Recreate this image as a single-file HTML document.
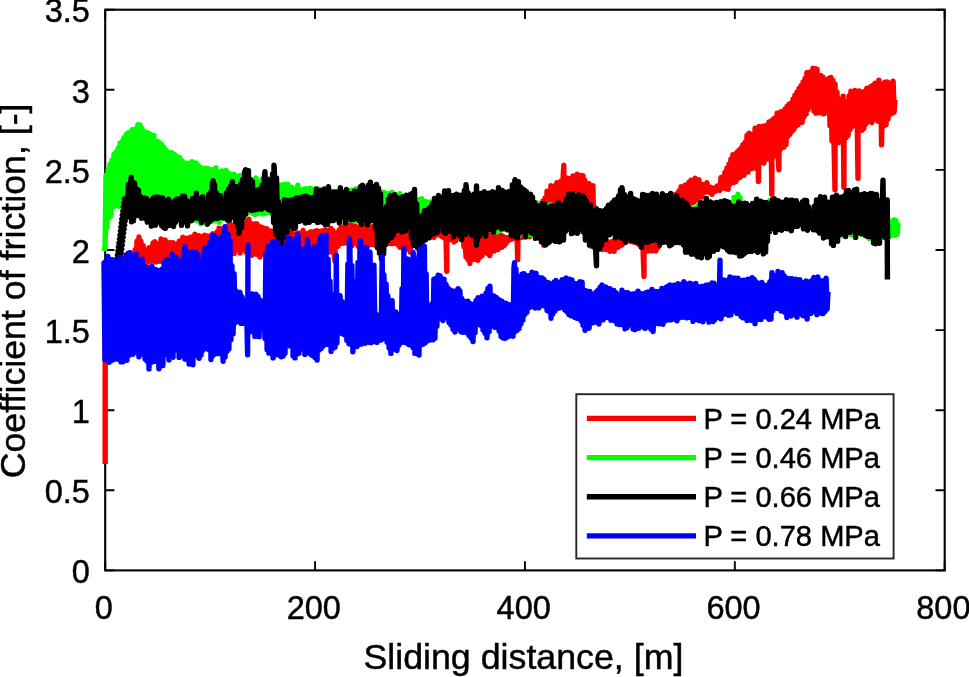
<!DOCTYPE html>
<html lang="en"><head><meta charset="utf-8"><title>Coefficient of friction vs sliding distance</title>
<style>html,body{margin:0;padding:0;background:#fff}svg{display:block}</style></head>
<body>
<svg width="969" height="677" viewBox="0 0 969 677">
<rect width="969" height="677" fill="#fff"/>
<rect x="105.2" y="9.7" width="839.5" height="560.6999999999999" fill="none" stroke="#000" stroke-width="2.1"/>
<path d="M105.20,570.4v-9.2M105.20,9.7v9.2M315.07,570.4v-9.2M315.07,9.7v9.2M524.95,570.4v-9.2M524.95,9.7v9.2M734.83,570.4v-9.2M734.83,9.7v9.2M944.70,570.4v-9.2M944.70,9.7v9.2M105.2,570.40h9.2M944.7,570.40h-9.2M105.2,490.30h9.2M944.7,490.30h-9.2M105.2,410.20h9.2M944.7,410.20h-9.2M105.2,330.10h9.2M944.7,330.10h-9.2M105.2,250.00h9.2M944.7,250.00h-9.2M105.2,169.90h9.2M944.7,169.90h-9.2M105.2,89.80h9.2M944.7,89.80h-9.2M105.2,9.70h9.2M944.7,9.70h-9.2" stroke="#000" stroke-width="1.9" fill="none"/>
<g>
<path d="M105.2,464.0 105.2,300.0 105.1,265.2 106.0,273.5 106.9,268.2 108.0,277.3 109.0,265.2 110.1,272.8 110.9,264.6 112.0,270.2 112.9,265.1 114.0,270.9 114.9,263.9 115.9,270.6 117.0,264.3 118.1,272.2 119.1,260.2 120.0,267.4 120.9,263.4 122.1,266.9 122.9,262.5 124.0,266.4 125.1,258.5 126.0,266.9 127.0,261.9 127.9,265.9 129.1,256.2 129.9,265.5 131.1,260.5 131.9,263.5 133.0,258.5 134.0,264.4 135.1,249.8 136.1,262.1 137.0,241.3 138.1,263.7 139.0,237.0 140.0,262.2 141.0,241.3 141.9,263.0 143.1,245.5 144.1,260.8 145.1,257.2 145.9,265.0 146.9,252.8 147.9,261.8 148.9,247.7 150.0,260.7 150.9,248.1 151.9,261.4 153.0,243.0 154.1,260.8 154.9,241.7 156.1,262.0 156.9,244.5 158.0,260.1 159.0,244.0 160.0,261.3 161.1,238.9 162.1,261.2 163.1,243.2 163.9,261.3 165.1,239.9 165.9,260.3 167.1,243.0 168.0,260.7 169.0,242.7 170.0,263.7 170.9,242.7 171.9,259.1 173.1,242.7 173.9,260.6 175.1,244.6 176.1,258.9 176.9,244.3 177.9,261.1 179.1,241.3 180.0,258.8 181.1,240.7 182.1,258.4 182.9,237.3 184.1,263.2 185.0,240.6 186.0,258.7 186.9,238.1 188.0,258.3 188.9,238.3 189.9,258.4 190.9,236.9 191.9,260.5 192.9,237.4 194.1,262.5 195.0,234.2 195.9,257.9 196.9,236.7 197.9,260.2 199.0,235.8 199.9,259.3 201.1,237.4 202.0,261.7 203.1,236.1 204.0,258.5 204.9,235.1 206.0,255.9 207.1,236.0 207.9,257.3 209.1,236.5 210.0,256.8 210.9,235.6 211.9,259.6 212.9,233.7 214.1,255.9 214.9,234.7 215.9,254.0 217.1,231.6 217.9,253.4 219.1,228.1 219.9,252.7 220.9,228.8 222.1,252.4 223.1,229.6 223.9,256.0 224.9,228.2 226.1,255.2 227.1,226.6 228.0,252.1 229.0,224.6 229.9,251.1 230.9,224.6 232.0,249.9 232.9,225.5 234.0,253.6 235.1,224.7 236.0,249.7 237.0,223.7 238.1,248.3 238.9,224.6 240.1,253.0 241.1,220.8 242.1,249.7 243.1,224.0 244.1,249.6 244.9,223.3 246.0,251.8 247.1,221.5 248.0,251.8 248.9,219.3 250.0,250.9 251.1,223.8 252.1,255.2 253.0,224.0 254.0,251.3 254.9,224.0 256.1,254.0 257.0,223.9 257.9,254.5 258.9,226.5 259.9,257.0 261.1,226.9 262.0,254.3 262.9,227.7 264.1,252.8 265.0,228.6 266.0,252.8 266.9,228.8 268.1,254.5 269.1,231.8 270.0,254.4 271.0,230.9 271.9,253.2 272.9,232.1 274.1,252.4 275.0,232.7 275.9,254.5 277.1,233.5 278.0,251.7 279.1,232.3 279.9,253.5 281.0,232.8 282.0,256.8 283.0,233.8 284.1,251.7 285.0,233.6 286.0,252.3 287.1,233.4 288.1,251.6 289.0,233.4 290.1,251.9 291.1,232.2 291.9,252.5 293.0,234.0 293.9,251.9 295.1,234.7 296.0,251.7 297.1,232.7 298.1,253.4 299.0,233.3 300.0,253.0 300.9,234.5 302.0,252.8 303.1,230.4 304.1,252.7 304.9,234.2 305.9,251.5 307.1,233.7 307.9,254.9 309.1,232.6 309.9,251.4 310.9,231.6 312.1,252.0 313.1,233.0 314.0,252.6 314.9,231.1 316.1,255.6 317.1,230.7 318.0,250.0 318.9,232.7 320.0,252.4 320.9,231.3 322.0,250.2 323.1,230.6 324.1,250.8 325.1,229.9 326.0,251.5 327.0,232.5 327.9,250.2 328.9,230.2 330.0,252.0 331.1,228.4 331.9,250.7 332.9,230.5 333.9,251.4 335.0,261.3 335.1,232.7 336.0,246.1 337.0,233.4 338.1,246.4 339.0,230.3 339.9,243.7 340.9,227.5 342.0,243.3 343.1,226.9 344.1,243.1 345.1,223.3 345.9,242.9 347.0,226.1 348.0,242.7 349.0,225.2 349.9,240.7 351.1,225.1 352.0,245.6 352.9,225.7 354.1,241.5 354.9,226.0 356.0,243.2 357.0,227.5 358.0,246.1 359.1,226.8 360.1,243.2 360.9,225.6 361.9,243.6 362.9,226.4 363.9,243.5 364.9,225.8 366.0,244.3 366.9,223.2 368.1,245.8 369.1,227.4 370.1,243.9 370.9,227.0 372.1,244.5 373.1,226.8 374.0,243.4 375.1,226.1 375.9,245.5 377.1,229.6 378.1,247.7 379.0,229.0 379.9,245.5 380.9,234.1 382.0,247.3 382.9,230.8 384.1,243.3 385.0,234.5 386.0,243.1 387.1,233.3 388.1,243.4 388.9,232.2 390.0,243.2 391.1,232.3 391.9,243.7 392.9,232.1 393.9,243.3 395.1,228.6 396.0,243.2 397.0,231.8 398.1,245.1 398.9,231.7 400.0,247.4 400.9,232.5 402.1,247.4 403.0,230.8 404.1,247.7 405.1,232.4 406.1,248.9 407.0,231.9 407.9,248.9 408.9,231.0 410.1,252.1 411.1,230.7 412.1,246.3 413.1,231.3 414.0,240.7 414.9,232.3 415.9,241.4 417.0,228.1 418.1,238.1 419.0,230.9 420.0,237.1 421.1,233.5 422.0,239.7 422.9,231.2 424.1,236.4 425.1,232.9 426.1,238.6 427.1,232.1 427.9,237.7 428.9,232.9 430.1,235.3 431.0,231.6 431.9,234.7 433.0,231.7 434.0,237.4 434.9,232.6 436.1,234.1 436.9,231.6 437.9,234.4 439.0,230.9 440.0,235.2 440.9,230.9 441.9,236.6 443.0,233.2 444.1,237.8 444.9,233.7 446.0,237.5 446.8,271.3 446.9,235.0 447.9,239.3 448.9,230.9 450.0,239.6 450.9,233.5 452.0,239.7 452.9,231.0 453.9,242.0 455.0,236.1 455.9,240.7 456.9,233.2 457.9,234.0 458.9,232.0 459.9,234.4 461.0,231.6 461.9,234.2 463.0,232.8 464.0,246.9 465.1,236.1 466.0,256.8 467.0,236.2 468.0,259.7 469.0,236.5 469.9,263.5 471.0,236.0 472.0,259.6 472.9,235.9 474.0,258.0 475.1,237.2 475.9,259.3 477.1,235.2 477.9,260.2 479.0,237.2 480.1,257.2 480.9,236.0 482.1,255.8 482.9,236.5 484.0,252.9 485.1,236.4 486.0,252.5 487.0,237.4 488.0,253.9 488.9,231.9 489.9,255.6 490.9,235.8 492.0,250.2 492.9,237.1 494.0,251.0 495.1,235.2 496.1,249.8 497.1,236.6 498.0,249.5 499.1,235.6 500.0,246.7 501.1,235.2 502.0,247.2 503.1,236.4 504.1,245.6 504.9,238.1 506.0,243.4 507.1,237.7 508.0,241.0 508.9,237.4 510.0,239.6 510.9,237.3 511.9,239.2 513.1,235.7 513.9,237.9 515.1,236.8 516.0,238.3 517.1,237.4 517.7,259.8 517.9,238.0 519.1,237.7 519.9,237.8 521.1,237.5 522.0,237.1 523.1,237.0 524.1,237.0 524.9,236.5 526.0,237.0 527.0,236.1 527.9,236.5 528.9,233.9 530.0,236.6 530.9,233.1 532.0,234.3 533.0,225.7 534.1,234.6 535.0,217.9 536.0,233.0 536.9,210.7 537.9,235.4 538.9,207.2 540.1,238.2 541.0,204.4 542.0,239.6 543.0,201.0 543.9,245.2 545.1,198.0 546.0,243.8 547.0,191.3 548.1,242.3 548.9,192.0 550.0,238.4 550.9,185.7 552.1,219.4 553.1,187.0 554.1,217.5 555.1,185.6 556.1,214.9 556.9,182.7 558.1,212.4 559.0,183.8 560.1,209.8 560.9,181.1 562.0,208.1 562.9,182.3 563.8,165.2 564.1,208.3 565.1,182.4 565.9,209.0 566.9,177.9 567.9,208.9 569.0,181.2 569.9,207.7 571.0,178.4 572.0,207.5 573.0,175.9 574.1,212.1 574.9,179.2 576.1,208.9 577.1,174.1 578.0,210.1 579.0,177.5 580.1,208.0 581.1,175.4 582.0,207.6 583.0,175.6 583.9,209.3 584.9,180.3 586.1,208.0 587.1,187.0 588.0,234.5 589.0,183.8 590.0,245.7 591.0,187.8 592.0,246.0 592.9,185.8 594.1,246.6 594.9,207.8 596.1,245.0 596.9,221.5 598.1,249.1 599.0,232.5 599.9,245.7 600.9,234.3 602.1,249.5 602.9,238.4 603.9,245.5 605.1,242.5 606.1,249.6 607.0,241.1 607.9,246.0 609.1,242.9 610.0,251.2 611.1,242.0 611.9,250.8 612.9,241.1 614.1,251.3 615.1,243.5 615.9,245.6 616.9,240.8 618.1,247.3 618.9,239.2 619.9,245.9 621.0,241.1 621.9,245.0 623.1,240.5 623.9,243.1 625.0,238.6 626.0,241.3 626.9,239.6 628.1,240.4 629.0,240.0 630.0,241.1 631.1,240.4 632.1,241.6 633.0,241.0 633.9,242.1 634.9,241.7 635.9,242.5 637.1,242.5 638.0,243.9 639.0,243.4 640.1,245.6 640.9,243.9 642.1,246.6 642.9,244.3 644.0,276.3 644.0,250.0 645.1,243.1 646.1,250.3 647.1,245.2 648.0,251.1 649.0,246.0 649.9,250.3 651.0,243.3 651.9,250.9 652.9,245.4 654.1,250.6 654.9,241.9 655.9,250.8 657.1,245.9 658.0,247.7 659.0,243.5 659.9,242.5 661.0,239.6 662.1,238.7 663.0,234.1 664.0,236.4 665.1,228.0 665.9,234.0 667.1,219.1 668.0,234.3 668.9,213.4 669.9,229.6 670.9,206.0 671.9,225.7 672.9,198.6 673.9,226.2 674.9,194.8 675.9,225.5 676.9,193.8 677.9,221.1 679.0,190.9 680.0,216.9 681.1,186.7 682.1,218.3 682.9,188.1 683.9,213.6 685.0,185.3 686.0,209.4 687.0,184.6 688.1,208.8 689.0,182.1 690.1,209.1 691.1,180.1 692.0,202.5 693.0,180.3 693.9,202.2 695.1,178.2 696.0,199.9 696.9,181.0 698.0,197.8 698.9,179.7 700.1,195.1 701.1,184.2 702.0,197.0 702.9,184.4 704.0,191.8 705.1,185.3 706.0,192.0 706.9,182.6 708.1,191.5 709.1,187.6 710.0,192.6 711.1,187.3 711.9,194.3 712.9,190.1 714.0,192.0 715.1,188.0 716.1,191.0 717.0,186.3 717.9,190.1 718.9,185.4 720.0,190.4 721.0,177.4 721.9,188.1 723.0,177.0 724.1,187.9 724.9,172.2 725.9,188.7 726.9,168.3 728.1,189.3 729.0,164.1 730.0,184.4 730.9,159.1 731.9,182.2 732.9,154.6 733.9,182.5 734.9,156.8 736.0,181.5 737.0,152.2 738.0,178.4 738.9,150.5 740.0,177.3 741.0,148.1 742.1,174.5 742.9,144.8 744.0,175.3 745.1,142.3 746.0,172.4 747.0,135.5 748.0,172.1 749.1,133.3 750.0,168.9 751.1,134.5 752.0,168.5 753.0,135.0 754.0,166.6 755.1,128.3 756.0,168.1 756.9,132.1 757.9,160.6 758.5,181.3 759.0,126.5 760.0,160.0 760.9,128.3 762.0,157.5 762.9,126.2 763.9,163.1 765.1,126.0 766.1,158.3 766.9,125.1 768.0,159.0 769.0,121.9 769.9,158.9 771.0,121.3 771.8,194.3 771.9,156.5 773.1,119.2 773.9,156.2 775.1,118.0 775.9,155.0 777.1,113.3 777.9,153.1 778.9,169.8 779.1,115.8 779.9,150.3 781.0,111.8 781.9,146.3 782.9,113.2 783.9,147.3 784.9,109.1 786.0,144.6 787.0,106.5 787.9,136.4 789.0,104.3 789.9,134.3 791.0,103.2 791.9,131.3 793.0,99.2 793.9,129.3 795.0,95.2 796.1,126.1 797.1,91.9 798.0,124.8 799.1,88.5 799.9,122.4 801.1,85.8 802.1,122.4 803.1,81.9 803.9,117.2 805.1,78.4 806.1,114.0 806.9,72.8 808.1,109.5 809.0,72.4 810.1,106.1 810.9,71.9 811.9,105.7 813.0,68.3 814.0,110.9 814.9,68.6 815.9,113.1 817.0,69.2 818.0,110.9 819.0,75.4 820.0,112.8 821.0,75.5 821.9,109.1 823.1,77.3 823.9,113.9 825.1,79.6 825.9,112.4 827.0,80.1 827.9,108.4 829.1,78.3 830.0,125.7 830.9,77.5 832.0,140.9 832.9,80.4 833.9,136.4 835.0,189.8 835.0,84.0 836.0,137.4 837.0,92.1 838.1,142.7 839.0,101.3 840.0,139.5 840.9,99.5 842.0,142.1 843.1,96.3 843.9,187.3 844.0,139.0 845.0,101.6 846.0,137.6 847.1,101.9 848.1,135.7 849.0,96.0 849.9,129.8 850.9,91.2 852.0,126.7 852.9,92.2 854.0,124.0 855.0,90.5 856.0,125.2 856.9,92.8 858.0,178.3 858.0,127.9 859.1,91.0 859.9,129.9 861.1,92.9 862.1,130.2 863.0,91.9 863.9,128.5 865.1,91.5 866.1,123.7 866.9,88.3 868.1,120.6 869.1,88.0 870.1,121.5 871.0,86.5 871.9,122.5 873.1,85.5 874.1,119.2 875.1,83.1 876.0,117.0 877.1,83.7 877.9,121.0 878.9,80.1 879.9,121.0 881.0,84.4 881.5,144.8 881.9,122.4 882.9,84.1 884.1,125.7 884.9,82.3 886.1,124.4 886.9,81.9 888.0,119.1 889.0,83.0 890.1,114.5 891.0,83.3 891.9,113.4 893.1,81.2 894.1,112.2 894.9,99.9" fill="none" stroke="#ff0000" stroke-width="5.4" stroke-linejoin="round" stroke-linecap="butt"/>
<path d="M103.9,251.0 105.1,246.8 106.0,175.2 106.9,228.1 108.1,170.1 109.0,218.0 109.9,164.4 110.9,215.6 112.0,160.5 112.9,207.2 114.0,154.3 114.9,205.4 116.1,151.9 117.1,204.4 118.1,148.4 119.1,206.2 120.0,143.3 121.1,198.3 122.1,141.5 123.1,195.1 123.9,137.8 124.9,198.8 126.1,134.6 127.1,199.1 128.0,132.9 128.9,201.6 130.0,132.7 131.1,204.6 132.1,129.6 132.9,206.8 133.9,130.0 134.9,203.1 136.0,128.8 137.0,206.0 137.9,124.7 139.1,207.0 140.1,125.2 141.1,209.5 142.1,128.7 143.0,210.2 143.9,131.6 145.0,208.9 146.1,132.8 147.1,207.5 148.0,132.9 149.0,210.0 150.0,134.3 150.9,209.6 152.0,136.2 153.0,211.4 153.9,135.4 155.0,213.7 156.1,141.2 157.0,212.0 158.0,141.8 158.9,211.5 159.9,143.3 160.9,216.0 161.9,144.8 162.9,215.8 163.9,147.5 165.1,214.0 166.0,150.3 166.9,213.5 167.9,152.1 169.0,216.6 170.0,155.2 171.0,213.3 171.9,152.6 173.1,214.1 174.0,154.2 175.0,216.0 176.0,155.9 177.1,216.7 178.0,157.0 179.0,215.5 179.9,157.8 181.1,216.2 182.0,160.6 183.0,216.4 184.1,162.6 185.0,217.2 186.1,164.2 186.9,218.2 188.0,163.3 189.0,217.1 190.0,163.3 191.0,219.3 192.1,161.8 192.9,218.5 194.1,164.6 195.0,219.4 196.1,163.0 197.0,220.7 198.1,165.5 199.0,219.6 200.0,167.2 200.9,223.6 201.9,167.9 203.0,222.1 204.1,168.5 204.9,222.2 206.1,168.2 207.0,222.8 208.1,168.7 209.0,222.1 210.0,169.8 211.1,221.3 212.1,169.7 213.1,220.7 214.1,169.2 215.1,220.0 216.0,167.8 217.0,218.7 217.9,172.1 219.1,222.1 220.0,172.1 220.9,218.5 221.9,170.9 223.1,218.5 224.1,172.4 224.9,216.4 226.0,170.4 227.0,218.1 228.0,173.3 229.1,216.6 230.0,174.6 230.9,215.1 232.0,174.2 233.0,215.3 234.0,174.2 235.1,215.2 235.9,176.0 236.9,215.0 237.9,177.3 239.0,214.8 240.0,175.7 240.9,216.8 242.0,178.2 242.9,212.7 243.9,174.8 245.0,213.6 246.1,177.6 247.1,213.1 248.1,179.6 249.1,212.0 250.1,179.8 251.1,212.0 252.1,180.0 252.9,213.4 254.0,179.9 255.1,214.5 256.0,177.9 257.1,213.3 258.0,181.2 259.0,213.2 259.9,182.3 260.9,212.7 261.9,179.5 263.0,214.0 264.0,182.1 265.1,213.4 266.1,180.2 266.9,212.1 268.0,184.4 269.0,212.2 270.0,183.7 271.1,212.9 272.0,184.6 273.1,211.5 274.0,184.5 275.1,216.1 276.1,182.7 276.9,214.2 277.9,184.4 278.9,214.3 280.1,185.0 281.1,214.8 282.0,186.3 282.9,216.7 284.1,184.3 285.1,213.9 285.9,184.4 286.9,217.5 288.0,184.1 289.1,214.0 290.1,187.7 291.1,218.0 292.0,187.3 293.0,215.5 294.1,189.0 294.9,215.7 295.9,189.8 297.0,215.4 297.9,185.2 299.0,218.8 300.1,189.8 301.1,217.4 302.0,190.0 302.9,219.5 303.9,189.3 305.1,215.2 305.9,188.7 306.9,215.8 308.0,189.4 309.0,215.8 310.1,188.3 310.9,215.3 312.0,189.3 312.9,215.3 314.1,189.7 315.0,216.4 315.9,188.6 317.0,217.0 317.9,188.8 318.9,215.4 320.1,190.0 320.9,216.8 321.9,189.5 322.9,217.0 324.1,189.8 325.0,216.4 326.0,189.6 327.0,219.2 328.0,190.0 329.0,216.0 329.9,192.4 331.1,215.2 332.1,192.3 333.0,215.8 333.9,191.4 335.0,217.2 336.1,192.3 337.0,216.4 338.0,192.2 339.1,217.3 340.1,192.1 340.9,216.4 342.1,193.2 343.1,216.1 344.0,191.9 344.9,219.7 346.0,193.3 347.0,218.0 348.0,190.3 349.0,220.0 350.0,193.9 351.0,216.4 352.0,190.2 353.1,217.3 354.1,192.7 355.1,221.2 356.1,188.8 356.9,217.1 358.0,192.8 358.9,217.5 360.1,188.8 360.9,218.0 361.9,191.3 363.0,217.7 364.0,191.4 364.9,221.7 366.0,188.8 366.9,218.6 368.0,192.3 369.0,220.1 370.1,191.8 371.0,219.4 372.1,193.1 373.0,220.4 373.9,189.2 375.0,218.7 376.0,191.3 376.9,220.2 378.1,192.4 378.9,219.9 380.1,192.6 381.1,220.2 382.0,192.2 383.0,220.6 384.0,192.4 385.0,220.1 386.1,193.9 386.9,219.8 388.0,193.8 389.0,219.9 390.1,194.7 391.0,220.5 392.0,192.1 393.1,221.3 394.1,194.9 395.0,221.7 396.1,196.5 396.9,221.9 398.1,195.0 399.1,221.6 399.9,193.8 401.0,224.6 401.9,196.6 403.0,225.2 403.9,196.2 405.1,221.3 406.0,198.1 406.9,222.2 408.0,199.1 408.9,222.7 409.9,199.0 410.9,221.6 412.1,200.1 412.9,222.7 414.0,200.1 415.0,225.9 415.9,199.7 417.1,222.2 417.9,201.8 418.9,222.9 419.9,199.4 421.1,226.3 421.9,198.6 422.9,223.8 424.1,202.7 425.1,224.0 426.0,201.4 427.0,226.6 427.9,204.1 429.0,224.9 430.0,201.9 431.0,227.6 431.9,203.7 433.1,224.9 433.9,205.2 434.9,226.9 436.0,201.8 437.1,225.2 438.1,203.9 439.0,227.7 440.0,201.1 441.1,226.7 442.1,201.5 442.9,228.2 444.1,201.3 445.1,231.2 445.9,204.7 447.1,229.1 448.1,202.8 448.9,228.9 449.9,202.7 451.0,230.0 452.1,203.3 452.9,230.4 453.9,204.2 455.0,230.6 455.9,203.2 456.9,229.2 457.9,204.4 459.1,229.8 460.0,203.5 461.0,230.1 462.0,201.1 463.1,229.7 464.0,204.1 465.1,230.6 465.9,204.8 466.9,232.6 468.0,202.9 468.9,228.7 470.0,200.1 470.9,230.3 471.9,203.6 472.9,228.6 474.1,204.1 474.9,228.1 476.0,203.7 476.9,228.9 478.1,201.3 478.9,229.1 480.0,204.3 480.9,229.7 482.1,204.9 483.1,227.7 483.9,205.3 484.9,231.2 486.1,205.0 486.9,227.9 488.0,205.4 489.1,227.3 490.1,205.5 491.0,227.6 491.9,204.0 493.0,232.1 494.1,203.5 494.9,231.4 496.0,205.0 497.0,231.8 498.1,204.5 498.9,230.1 500.0,204.0 501.1,230.1 501.9,205.2 503.1,229.6 503.9,205.1 505.0,228.5 506.1,205.0 507.0,229.6 507.9,202.2 509.1,229.3 509.9,204.2 511.0,231.5 511.9,206.4 513.0,230.2 514.1,204.9 515.0,230.3 515.9,202.3 517.1,231.8 518.1,205.0 519.0,235.5 520.1,205.4 520.9,232.3 521.9,205.4 522.9,232.6 524.1,205.1 524.9,231.7 526.1,207.4 526.9,235.7 528.0,206.8 529.0,231.1 530.0,206.3 531.0,234.7 531.9,206.9 533.0,231.7 534.0,203.9 534.9,232.0 535.9,206.4 536.9,231.8 537.9,202.9 539.1,234.4 539.9,207.7 540.9,232.6 542.0,204.6 543.1,230.3 544.1,206.6 544.9,230.4 546.0,207.5 547.1,230.4 548.1,207.1 548.9,233.6 550.0,204.6 551.0,230.9 552.1,208.7 552.9,231.1 554.1,207.6 554.9,231.4 556.1,209.1 557.0,231.0 558.0,208.2 559.0,229.5 559.9,209.1 561.0,230.4 562.1,209.3 563.0,229.6 563.9,210.0 565.0,230.2 566.1,206.5 567.1,229.1 567.9,210.3 569.1,229.4 570.0,210.2 571.1,229.7 571.9,207.3 573.1,229.5 573.9,210.7 574.9,230.7 576.1,210.4 576.9,233.1 578.1,209.9 579.0,231.0 580.1,210.7 581.0,231.4 582.0,211.3 583.0,231.3 583.9,210.3 585.0,231.2 586.0,208.4 587.0,230.0 588.1,211.3 588.9,230.0 590.1,211.9 591.1,231.4 591.9,210.9 593.0,232.8 594.0,210.2 595.0,230.7 596.1,209.5 597.1,229.8 597.9,211.1 599.1,234.3 600.0,211.7 601.1,230.0 602.1,212.5 602.9,231.5 604.1,212.4 605.0,232.8 605.9,213.2 607.1,230.8 608.0,212.8 608.9,229.6 610.0,213.3 611.0,230.5 612.0,214.3 613.1,233.1 614.0,211.9 614.9,229.5 615.9,213.5 617.0,230.2 618.1,211.8 618.9,234.3 620.1,208.4 621.0,229.6 622.1,212.6 622.9,230.6 623.9,212.9 625.1,233.5 626.1,212.5 626.9,230.1 627.9,208.9 629.1,230.8 630.0,211.9 631.0,231.3 632.1,208.6 633.1,229.8 633.9,210.9 634.9,230.3 636.1,211.8 636.9,230.9 638.1,210.1 638.9,231.4 640.0,208.2 640.9,231.0 642.0,209.4 643.1,230.7 643.9,209.6 645.0,230.3 646.1,209.7 647.0,231.4 648.1,209.1 648.9,230.3 650.0,206.9 650.9,229.9 652.1,210.1 653.1,229.5 654.0,209.5 655.1,229.9 655.9,209.8 657.0,231.5 658.0,210.5 658.9,231.0 660.0,209.1 661.1,229.7 662.0,209.7 663.0,230.1 664.1,208.3 665.1,233.2 665.9,209.0 666.9,233.6 668.0,208.6 669.1,229.8 669.9,208.6 671.1,230.6 672.0,209.7 673.1,231.1 674.1,209.3 674.9,234.0 675.9,210.0 676.9,230.5 678.0,207.9 679.1,229.1 679.9,210.2 681.1,233.0 682.0,207.9 683.1,230.6 684.0,208.0 685.0,229.6 686.0,209.6 687.0,230.0 688.1,209.5 689.0,229.6 690.0,209.9 690.9,232.8 692.0,207.8 692.9,229.5 693.9,209.5 695.1,231.1 695.9,207.9 696.9,229.8 697.9,205.5 699.0,229.7 700.1,207.6 701.1,230.1 702.0,209.2 703.1,230.4 704.1,207.6 705.0,230.4 705.9,209.3 707.0,229.6 708.1,209.4 708.9,229.7 709.9,209.4 710.9,229.8 712.1,208.2 712.9,230.0 714.0,204.7 715.1,232.4 716.0,209.7 717.0,229.7 717.9,205.9 719.1,231.9 719.9,204.6 721.0,232.1 722.0,206.0 723.0,231.5 724.1,208.1 724.9,228.2 725.9,208.6 727.1,229.2 728.0,207.7 729.0,228.2 730.0,209.3 731.0,231.2 731.9,202.9 732.9,228.0 734.1,197.5 735.1,231.0 735.9,197.8 736.9,228.7 738.0,194.2 738.9,228.1 740.0,197.7 741.1,227.9 742.1,206.0 742.9,231.0 743.9,205.8 745.1,227.6 746.1,206.7 747.1,227.6 748.1,205.7 749.1,230.2 750.0,207.3 750.9,228.2 752.1,206.7 753.0,227.2 754.1,207.2 755.0,226.7 756.0,205.8 757.0,227.0 758.1,206.9 758.9,225.8 759.9,207.8 760.9,227.2 761.9,207.4 763.0,225.5 764.0,207.3 765.1,227.4 766.0,207.2 767.0,227.5 768.0,204.1 769.0,229.0 769.9,200.6 771.0,228.7 772.1,200.0 773.0,225.6 774.1,204.3 774.9,226.7 776.1,208.0 777.0,224.8 778.0,204.4 778.9,225.2 780.1,208.2 780.9,225.2 781.9,209.7 783.1,226.4 784.1,209.8 784.9,225.2 786.1,206.4 786.9,226.5 788.1,209.0 789.1,224.3 789.9,210.1 791.0,224.9 792.1,209.6 793.1,225.8 794.1,208.9 795.0,225.1 796.0,209.5 797.0,224.4 798.0,207.9 799.0,225.4 800.1,211.4 801.0,224.5 802.1,209.6 803.1,224.5 804.0,207.2 805.1,224.7 806.0,210.5 807.1,224.7 807.9,211.3 809.1,224.3 810.0,211.5 811.1,224.3 811.9,208.8 813.1,225.2 814.0,211.1 814.9,226.9 815.9,212.7 817.1,226.1 818.1,211.9 818.9,226.0 820.0,211.6 821.1,226.3 822.1,212.7 823.1,227.5 824.0,209.4 824.9,228.3 826.0,212.6 826.9,232.6 828.1,208.6 828.9,230.0 829.9,212.5 831.0,230.4 832.0,212.0 833.0,230.3 833.9,208.9 835.1,229.0 836.0,210.3 836.9,231.1 837.9,212.7 839.0,231.9 840.1,210.1 840.9,230.9 842.1,212.2 843.1,235.6 843.9,210.5 845.0,235.3 845.9,213.4 846.9,232.7 847.9,214.4 849.1,231.3 850.1,213.2 851.1,235.0 851.9,214.6 852.9,233.5 853.9,215.2 854.9,232.4 856.1,213.6 857.1,233.8 857.9,214.2 858.9,233.6 860.1,211.5 861.1,233.9 862.0,216.0 863.1,234.4 864.1,216.5 864.9,235.3 866.1,215.2 866.9,236.1 868.0,216.8 869.1,238.4 870.0,215.9 871.1,235.9 872.0,217.3 872.9,235.6 874.1,217.4 875.0,236.6 876.1,216.1 877.0,236.8 877.9,215.7 879.1,238.1 879.9,216.5 881.0,237.5 881.9,217.6 882.9,236.3 883.9,216.9 885.0,236.0 885.9,215.7 887.0,236.2 888.0,219.4 888.9,235.1 889.9,221.9 891.1,235.9 892.1,222.1 893.1,234.9 894.1,219.8 895.1,235.2 896.1,220.7 897.1,234.6 898.1,222.9" fill="none" stroke="#00ff00" stroke-width="5.4" stroke-linejoin="round" stroke-linecap="butt"/>
<path d="M115.1,275.0 118.7,273.0 115.6,271.0 119.2,269.0 116.1,267.0 119.7,265.0 116.6,263.0 120.2,261.0 117.0,259.0 120.7,257.0 117.5,255.0 121.2,253.0 118.0,251.0 121.7,249.0 118.5,247.0 122.2,245.0 119.0,243.0 122.6,241.0 119.5,239.0 123.1,237.0 120.0,235.0 123.6,233.0 120.5,231.0 124.1,229.0 120.9,227.0 124.6,225.0 121.4,223.0 125.1,221.0 121.9,219.0 125.6,217.0 122.4,215.0 126.1,213.0 122.9,211.0 126.5,209.0 123.4,207.0 127.0,205.0 123.9,203.0 127.5,201.0 124.4,199.0 128.0,197.0 126.5,200.2 127.4,217.1 128.4,184.5 129.5,216.4 130.5,184.1 131.2,177.2 131.6,221.8 132.6,183.4 133.5,220.9 134.6,183.0 135.6,215.3 136.5,188.7 137.6,215.5 138.4,189.9 139.5,214.8 140.5,196.4 141.5,218.2 142.6,200.2 143.6,217.6 144.6,197.9 145.5,218.6 146.6,198.4 147.4,222.1 148.4,201.5 149.4,221.4 150.6,200.8 151.4,226.1 152.6,198.7 153.6,220.7 154.5,197.2 155.5,225.2 156.4,197.0 157.6,221.0 158.5,197.2 159.5,222.2 160.6,197.6 161.6,225.3 162.6,197.6 163.4,227.3 164.4,200.4 165.4,228.3 166.6,201.8 167.6,225.9 168.6,199.1 169.5,225.4 170.5,204.0 171.5,222.8 172.6,202.9 173.6,226.5 174.6,201.0 175.5,222.4 176.4,199.2 177.5,220.1 178.5,198.9 179.5,219.9 180.5,198.9 181.6,225.3 182.6,196.1 183.5,220.2 184.6,196.2 185.5,221.9 186.6,200.4 187.6,225.8 188.5,202.6 189.4,219.2 190.5,202.0 191.5,220.9 192.5,198.4 193.4,218.5 194.6,199.9 195.5,217.6 196.4,193.0 197.5,217.9 198.5,199.2 199.6,218.8 200.5,198.8 201.6,222.4 202.6,196.7 203.4,217.5 204.4,205.1 205.5,220.0 206.6,204.5 207.4,224.2 208.6,194.4 209.5,221.7 210.5,192.5 211.5,219.6 212.4,183.1 213.2,180.7 213.5,218.6 214.5,184.4 215.5,217.8 216.5,192.9 217.6,218.3 218.5,196.8 219.6,217.6 220.5,195.6 221.5,215.7 222.4,204.5 223.6,218.1 224.6,201.6 225.5,215.4 226.4,192.8 227.4,220.0 228.6,189.2 229.6,220.2 230.6,186.3 231.5,213.8 232.4,181.7 232.6,185.3 233.4,216.7 234.4,189.0 235.6,221.5 236.4,186.8 237.5,225.2 238.5,188.0 239.0,233.3 239.5,229.6 240.6,184.4 241.6,227.6 242.5,179.8 243.4,217.4 244.6,171.9 245.6,214.3 245.7,169.7 246.4,171.7 247.4,209.7 248.5,170.7 248.4,177.6 249.6,204.4 250.4,179.4 251.5,210.4 252.4,181.5 253.6,210.0 254.5,190.4 255.5,209.9 256.6,191.2 257.6,209.2 258.4,189.8 259.6,208.4 260.4,188.6 261.6,209.2 262.4,184.9 263.5,207.7 264.4,176.0 265.0,171.7 265.5,207.5 266.4,178.1 267.5,208.7 268.6,179.8 269.4,210.0 270.4,180.2 271.4,210.5 272.6,173.7 273.6,222.5 274.0,165.2 274.4,172.0 275.6,234.0 276.5,177.9 277.6,236.2 278.5,201.5 279.6,239.5 280.6,205.8 281.6,243.9 282.5,205.6 283.4,237.4 284.6,199.6 285.5,228.7 286.6,201.5 287.4,232.2 288.4,200.1 289.6,226.0 290.4,201.0 291.4,226.7 292.4,199.8 293.6,228.6 294.5,199.1 295.4,227.7 296.4,197.6 297.4,221.4 298.6,198.0 299.5,221.3 300.6,197.8 301.5,220.0 302.4,197.0 303.5,220.7 304.4,196.2 305.5,223.0 306.5,196.3 307.4,219.9 308.4,197.1 309.4,222.3 310.4,198.4 311.4,220.6 312.6,197.4 313.5,220.4 314.6,197.0 315.5,220.4 316.4,189.3 317.5,222.5 318.5,192.3 319.5,222.0 320.4,190.6 321.5,220.3 322.5,190.7 323.4,222.6 324.5,189.0 325.4,224.8 326.4,189.1 327.5,224.6 328.5,186.8 329.4,219.1 330.4,192.1 331.4,220.6 332.5,192.3 333.4,220.6 334.6,192.3 335.4,217.4 336.6,191.9 337.4,219.2 338.5,194.0 339.4,222.9 340.4,187.6 341.4,217.0 342.6,192.5 343.4,217.0 344.6,193.5 345.6,223.0 346.5,189.4 347.4,217.3 348.6,195.0 349.5,217.4 350.6,193.7 351.4,219.9 352.6,195.0 353.4,219.3 354.5,191.3 355.4,218.7 356.5,192.6 357.5,218.2 358.5,190.6 359.5,221.2 360.5,186.8 361.5,224.3 362.4,185.3 363.4,219.7 364.4,188.5 365.6,220.5 366.5,187.7 367.4,224.7 368.4,185.2 369.6,221.4 370.4,182.2 371.5,219.9 372.5,187.6 373.4,220.5 374.6,186.5 375.5,228.7 376.5,184.5 377.5,247.6 378.5,188.2 379.5,253.1 380.5,193.9 381.4,258.9 382.6,209.3 383.6,253.9 384.6,209.5 385.5,244.7 386.6,206.4 387.6,240.6 388.6,199.3 389.5,238.2 390.4,195.4 391.6,237.3 392.4,197.7 393.4,234.9 394.6,194.5 395.6,230.6 396.4,197.3 397.5,230.0 398.4,199.8 399.6,226.4 400.6,197.6 401.5,232.0 402.4,197.0 403.5,225.8 404.6,198.1 405.4,231.0 406.4,195.3 407.4,227.3 408.5,195.8 409.5,226.9 410.6,194.1 411.4,237.6 412.5,193.3 413.4,245.4 414.5,189.5 415.5,245.4 416.6,204.0 417.5,247.7 418.6,216.9 419.5,245.5 420.6,218.1 421.4,242.2 422.5,215.3 423.6,241.0 424.5,210.6 425.4,239.9 426.4,210.7 427.5,237.4 428.5,209.0 429.4,237.9 430.4,207.1 431.6,229.4 432.4,204.0 433.6,233.9 434.4,198.5 435.6,232.7 436.6,201.8 437.6,232.4 438.5,195.5 439.4,226.4 440.4,199.8 441.6,226.7 442.4,197.1 443.4,231.6 444.6,191.0 445.5,233.1 446.5,193.6 447.4,229.4 448.5,190.6 449.4,231.3 450.6,196.8 451.6,231.5 452.4,195.7 453.6,236.8 454.5,195.2 455.5,232.9 456.5,194.3 457.4,232.2 458.4,197.0 459.4,235.4 460.6,195.1 461.6,239.6 462.6,194.9 463.4,233.5 464.4,190.5 465.5,234.1 466.0,184.7 466.5,188.9 467.6,230.6 468.4,193.1 469.4,232.1 470.5,195.1 471.6,234.9 472.5,195.4 473.5,235.3 474.4,193.9 475.6,238.6 476.5,245.3 476.5,186.0 477.4,240.2 478.5,193.4 479.5,235.9 480.5,193.4 481.6,233.0 482.4,193.4 483.4,231.6 484.4,191.7 485.6,236.2 486.6,196.2 487.5,228.6 488.6,193.3 489.6,229.1 490.6,192.9 491.4,229.5 492.6,191.6 493.5,232.1 494.5,192.8 495.4,228.0 496.4,193.3 497.6,226.9 498.5,187.7 499.6,226.4 500.5,192.6 501.5,228.9 502.4,190.5 503.5,227.7 504.5,192.0 505.4,228.1 506.5,198.6 507.6,229.7 508.5,191.6 509.6,228.8 510.4,193.0 511.4,235.6 512.4,184.6 513.4,229.8 514.4,184.5 515.0,179.7 515.5,236.7 516.6,186.1 517.5,237.7 518.4,181.6 519.4,232.9 520.5,186.9 521.4,231.2 522.4,188.6 523.5,231.9 524.5,190.2 525.6,236.5 526.4,191.7 527.4,230.0 528.5,194.8 529.4,230.4 530.6,194.2 531.5,233.0 532.5,196.9 533.5,233.2 534.4,202.2 535.5,238.3 536.6,206.4 537.6,234.3 538.4,205.7 539.5,238.2 540.4,207.4 541.5,241.8 542.4,203.7 543.5,243.0 544.5,204.2 545.5,244.9 546.4,208.2 547.6,243.3 548.5,208.0 549.4,242.1 550.6,206.2 551.4,238.7 552.5,206.2 553.4,240.3 554.6,208.0 555.6,241.3 556.5,205.7 557.6,241.2 558.4,202.4 559.6,241.8 560.6,206.2 561.4,237.3 562.5,205.7 563.5,240.1 564.5,203.9 565.6,231.2 566.5,198.9 567.4,228.7 568.6,194.1 569.4,228.8 570.5,196.2 571.5,233.6 572.4,193.9 573.5,232.7 574.5,197.4 575.4,227.5 576.4,196.6 577.4,233.2 578.6,194.6 579.5,228.2 580.4,195.4 581.5,229.3 582.4,195.7 583.5,231.8 584.4,197.9 585.4,240.0 586.6,201.3 587.6,237.5 588.4,205.4 589.5,244.9 590.5,205.3 591.4,243.6 592.5,210.5 593.5,246.8 594.6,212.1 595.5,248.0 596.5,265.8 596.6,209.0 597.6,248.5 598.4,215.6 599.5,248.9 600.4,210.6 601.4,245.2 602.6,212.6 603.4,238.6 604.6,210.5 605.6,239.7 606.6,208.4 607.5,235.0 608.4,205.2 609.5,234.9 610.5,204.6 611.5,231.8 612.4,202.7 613.5,232.6 614.4,200.2 615.4,237.7 616.5,199.1 617.6,236.2 618.6,195.9 619.4,236.6 620.5,189.7 621.6,238.0 622.0,187.7 622.5,191.9 623.5,238.6 624.6,194.6 625.6,242.1 626.4,196.9 627.4,237.2 628.4,198.3 629.5,237.7 630.6,193.5 631.5,240.3 632.4,198.1 633.5,240.8 634.4,199.3 635.4,241.7 636.6,200.2 637.4,242.2 638.5,201.8 639.6,242.9 640.6,200.9 641.4,247.1 642.6,194.4 643.4,241.9 644.6,195.0 645.6,242.2 646.4,196.5 647.6,242.1 648.5,195.4 649.4,240.9 650.6,195.2 651.4,240.5 652.5,193.5 653.4,240.1 654.5,199.4 655.4,239.8 656.5,194.2 657.6,239.8 658.5,197.5 659.5,245.3 660.5,197.6 661.6,241.4 662.4,193.6 663.4,242.2 664.6,198.6 665.4,240.6 666.6,195.7 667.6,242.4 668.6,197.8 669.6,245.8 670.6,193.4 671.4,244.7 672.4,199.4 673.4,242.7 674.5,200.2 675.4,242.6 676.6,195.8 677.4,242.0 678.5,200.1 679.6,242.6 680.4,201.8 681.6,241.5 682.5,200.4 683.5,245.0 684.4,202.7 685.6,252.2 686.6,204.0 687.4,252.1 688.5,207.4 689.5,252.1 690.5,210.0 691.5,254.1 692.6,209.6 693.4,253.7 694.6,209.8 695.4,254.5 696.4,209.6 697.6,256.7 698.4,208.9 699.6,250.4 700.5,202.4 701.4,257.7 702.5,206.4 703.5,251.8 704.5,203.0 705.5,253.8 706.4,198.5 707.5,257.6 708.5,203.0 709.4,256.3 710.4,202.0 711.6,249.7 712.5,203.0 713.6,251.2 714.6,206.3 715.4,247.0 716.4,202.5 717.6,249.4 718.6,204.4 719.4,245.9 720.5,201.6 721.6,244.9 722.5,201.9 723.6,246.6 724.5,200.7 725.4,247.4 726.4,201.5 727.6,250.1 728.6,202.2 729.6,251.8 730.6,205.3 731.5,251.9 732.5,206.4 733.4,251.7 734.5,207.5 735.5,252.5 736.6,205.7 737.4,252.7 738.6,202.0 739.6,256.0 740.5,205.2 741.6,255.8 742.5,203.9 743.5,254.1 744.6,203.3 745.4,252.8 746.5,203.7 747.6,249.9 748.5,205.9 749.6,251.4 750.4,205.9 751.5,251.4 752.5,203.4 753.4,248.7 754.6,204.2 755.6,250.2 756.6,199.3 757.6,252.3 758.6,202.1 759.5,247.7 760.6,201.2 761.4,250.8 762.4,202.6 763.4,253.9 764.6,202.4 765.6,251.9 766.4,202.7 767.4,241.5 768.5,203.6 769.6,231.7 770.4,203.2 771.6,228.5 772.5,199.6 773.4,228.6 774.4,198.7 775.6,232.4 776.5,203.2 777.5,228.0 778.4,200.6 779.4,229.2 780.6,202.9 781.6,230.2 782.4,202.1 783.6,227.3 784.4,203.6 785.6,228.5 786.4,199.6 787.6,228.7 788.5,205.4 789.6,228.0 790.5,200.1 791.4,230.7 792.4,200.1 793.6,225.5 794.6,206.0 795.4,226.4 796.4,200.8 797.5,226.3 798.4,204.1 799.4,224.7 800.5,203.9 801.6,224.6 802.6,201.8 803.5,228.9 804.6,200.1 805.4,223.3 806.6,200.5 807.6,230.2 808.5,206.7 809.5,227.3 810.6,212.1 811.5,227.9 812.4,212.4 813.4,229.9 814.4,206.2 815.6,229.9 816.5,199.9 817.4,230.3 818.4,201.3 819.5,233.0 820.5,196.7 821.5,231.5 822.4,202.3 823.5,238.0 824.6,197.1 825.6,237.0 826.6,202.2 827.5,234.0 828.5,202.3 829.6,236.8 830.6,202.7 831.6,243.8 832.5,197.2 833.4,245.4 834.6,199.5 835.5,240.3 836.4,195.2 837.6,241.2 838.5,197.6 839.6,234.8 840.6,197.2 841.6,233.9 842.6,197.9 843.4,233.0 844.5,195.6 845.6,236.5 846.5,190.9 847.5,231.8 848.6,190.4 849.6,232.4 850.5,192.5 851.4,231.1 852.5,192.4 853.6,230.6 854.5,189.9 855.6,237.4 856.6,189.1 857.6,233.0 858.6,196.2 859.4,231.8 860.5,194.9 861.4,233.7 862.4,194.4 863.6,233.6 864.4,193.7 865.6,235.2 866.4,196.4 867.4,236.4 868.5,194.5 869.4,236.5 870.5,193.5 871.4,236.4 872.4,193.6 873.6,243.0 874.6,195.4 875.5,243.8 876.4,194.4 877.5,238.7 878.6,201.4 879.5,243.2 880.5,200.7 881.5,235.4 882.4,200.5 883.0,180.2 883.5,233.9 884.6,204.3 885.4,237.8 886.5,202.9 887.6,239.7 887.2,200.0 887.4,279.5" fill="none" stroke="#000000" stroke-width="5.4" stroke-linejoin="round" stroke-linecap="butt"/>
<path d="M105.0,262.0 105.0,356.0 105.0,262.0 104.0,262.8 105.0,359.8 106.1,265.0 106.9,358.6 107.9,256.4 109.1,362.2 109.9,259.7 111.1,360.7 112.0,259.8 112.9,359.8 114.1,260.3 114.9,357.6 116.1,263.2 117.0,359.1 117.9,263.1 118.9,359.0 119.9,257.2 121.0,361.9 122.0,263.1 122.9,361.7 123.9,264.4 124.9,358.7 126.1,255.3 126.9,360.2 127.9,253.5 129.1,355.3 130.0,252.7 129.9,259.4 131.1,353.1 132.0,260.4 132.9,354.3 134.0,257.6 134.9,352.1 136.1,254.2 136.9,350.3 137.9,261.2 138.9,356.7 139.9,261.5 141.1,354.2 142.1,259.1 143.0,353.1 143.9,266.0 145.1,359.0 145.9,267.3 146.9,361.0 147.9,269.4 149.0,368.9 150.1,267.4 151.1,362.4 151.9,266.2 153.1,361.3 154.1,269.3 155.0,361.2 155.9,269.8 156.9,359.9 158.1,271.5 158.9,368.7 159.9,270.5 161.0,365.9 161.9,269.1 162.9,365.4 164.1,262.5 165.0,354.5 166.1,260.3 167.1,352.4 167.9,260.0 169.0,359.9 169.9,261.1 171.0,351.1 172.1,254.2 173.0,357.3 173.9,261.0 174.9,348.6 176.1,257.4 177.1,350.3 178.1,262.5 179.1,357.4 179.9,267.6 180.9,355.6 182.0,259.4 182.9,355.5 184.0,254.4 185.0,246.7 184.9,359.0 186.0,253.1 187.0,359.0 187.9,252.6 189.1,364.0 190.1,254.4 190.9,361.5 192.0,252.5 192.9,364.7 194.1,252.2 195.0,355.8 196.0,252.3 197.0,355.2 197.9,254.7 199.1,358.2 200.1,261.2 201.0,355.0 202.1,265.8 203.0,350.2 204.0,258.4 205.0,247.7 205.1,348.4 206.1,251.0 206.9,347.4 208.1,247.8 209.0,349.8 210.0,242.8 211.0,359.5 212.0,241.1 212.5,235.2 212.9,355.4 214.1,235.8 214.9,354.1 215.9,237.4 217.1,351.4 217.9,239.9 219.1,353.6 220.1,250.3 220.9,352.5 221.9,236.7 223.1,361.2 224.1,234.1 225.0,226.7 225.1,357.1 226.0,233.3 227.0,351.2 228.1,234.5 228.9,348.9 230.0,241.0 230.9,339.6 231.9,265.8 233.1,333.6 234.1,273.8 235.0,322.6 235.9,290.7 237.1,319.9 238.0,299.5 239.0,321.6 240.1,292.5 241.1,323.4 242.0,296.7 243.0,323.2 244.0,301.6 245.1,323.6 246.0,300.5 247.0,325.0 247.6,354.8 248.0,245.2 247.9,297.0 249.0,325.8 249.9,295.5 251.1,331.6 252.1,293.9 252.9,326.9 254.0,295.3 254.9,336.4 256.0,294.2 257.1,331.0 258.0,296.5 259.1,336.6 259.9,299.9 261.1,325.1 261.9,301.1 262.9,324.5 264.0,306.8 265.0,338.4 265.9,254.8 267.1,349.6 267.9,246.5 268.9,353.1 270.1,251.5 270.9,351.8 272.1,246.6 272.5,241.7 273.1,357.9 273.9,241.5 275.1,351.5 275.9,242.3 277.1,354.8 277.9,242.9 279.1,353.6 280.1,249.0 281.1,356.8 282.1,249.3 283.1,356.1 283.9,248.7 285.0,353.1 286.0,246.0 287.1,343.6 287.9,238.3 288.9,345.8 290.0,238.7 290.0,242.5 290.9,345.8 291.9,244.6 293.1,356.0 294.0,243.4 295.1,357.9 296.0,238.7 297.0,354.0 297.5,234.7 298.1,235.5 298.9,353.1 300.1,248.7 301.0,348.9 302.0,249.8 302.9,348.6 303.9,254.9 304.9,354.4 306.0,247.6 307.1,352.5 307.5,239.7 308.1,248.2 309.0,348.2 310.1,250.3 310.9,354.6 312.1,256.4 313.0,356.0 314.1,247.2 315.1,357.4 315.9,250.4 317.1,360.0 317.9,246.1 319.1,350.1 320.0,237.7 319.9,241.8 321.1,348.6 321.9,235.6 322.9,346.3 324.1,242.7 325.1,344.3 326.0,235.2 325.9,237.4 327.0,344.2 328.1,259.1 329.0,344.5 330.0,281.1 331.1,351.4 331.9,294.4 333.0,348.2 333.9,301.8 335.0,347.1 336.1,303.2 336.3,255.2 336.9,342.9 338.0,299.0 339.0,333.3 340.1,295.7 341.1,329.0 341.9,301.4 342.9,333.8 343.9,302.9 344.9,335.0 345.9,305.2 346.9,340.4 347.9,264.0 349.0,343.7 349.3,238.9 349.9,245.4 350.9,344.3 351.9,265.8 352.9,351.8 354.1,281.2 355.0,344.0 356.0,286.4 357.0,346.5 358.0,262.5 359.1,343.3 360.0,244.3 360.5,240.7 360.9,344.1 362.1,246.7 362.9,339.5 364.0,271.1 365.1,343.2 366.1,261.5 366.7,247.7 367.1,341.6 368.0,255.3 369.0,342.3 370.0,252.1 370.9,342.6 372.0,266.8 373.1,341.7 373.9,265.3 375.0,340.0 375.9,313.6 377.1,342.4 378.1,315.5 379.1,339.9 380.0,315.9 381.1,340.1 382.1,264.1 382.2,256.7 382.9,338.8 383.9,274.6 384.9,333.9 386.1,284.3 387.1,342.1 387.9,296.0 389.1,347.9 390.1,301.3 390.9,353.4 392.1,300.8 393.0,349.2 394.0,311.8 395.0,343.9 395.9,311.9 397.0,350.5 398.0,316.8 399.0,345.2 400.1,314.2 401.1,342.0 402.1,288.8 403.1,342.3 403.9,250.0 403.9,248.8 405.0,342.1 406.0,258.8 406.9,343.1 408.0,259.1 409.1,344.8 410.1,268.6 411.1,342.6 412.0,262.2 413.1,347.8 413.2,252.5 413.9,257.5 414.9,353.4 416.1,264.9 417.1,350.6 418.1,259.4 419.0,355.0 419.4,250.7 420.1,249.0 420.9,344.9 421.9,255.1 422.9,344.1 424.0,252.3 424.4,246.3 424.9,342.9 426.1,273.9 427.1,340.9 428.1,308.6 428.9,340.3 430.1,308.8 431.0,338.2 432.0,304.0 433.0,339.8 433.9,279.2 434.9,338.1 435.9,278.5 436.9,326.3 438.1,275.2 438.9,315.6 440.1,276.0 440.9,318.4 441.9,278.9 443.0,320.5 444.0,279.2 444.9,317.3 446.1,284.5 447.0,316.5 447.9,287.8 449.0,322.5 449.9,289.8 450.9,324.8 452.1,290.6 453.0,329.2 454.1,292.7 455.0,332.0 456.0,291.0 457.1,328.4 458.1,288.7 458.9,328.8 459.9,290.6 461.0,331.7 461.9,298.5 463.1,332.3 463.9,301.1 465.0,331.2 465.9,301.9 466.9,332.6 468.0,301.3 469.0,335.4 469.9,303.5 471.1,337.8 472.1,304.5 473.0,341.5 474.0,304.1 475.0,332.8 476.0,300.6 477.0,324.7 478.1,297.7 479.1,324.0 480.1,298.0 481.0,325.3 482.0,296.2 483.0,329.8 484.0,298.9 485.0,333.1 486.0,293.1 487.0,337.7 487.9,288.5 489.1,331.6 489.9,286.1 491.0,324.3 491.9,295.5 493.0,326.1 493.9,295.9 495.1,327.4 496.1,297.3 497.1,326.5 498.0,298.9 499.1,330.8 499.9,300.2 501.1,336.5 501.9,301.3 503.0,337.9 504.1,305.1 505.0,338.4 506.0,303.1 507.1,337.2 507.9,304.4 509.1,335.7 510.1,305.0 511.0,335.9 512.1,305.2 513.0,336.2 514.0,267.2 514.5,262.7 515.1,331.5 515.9,269.0 517.1,330.1 517.9,278.8 519.1,328.4 519.9,276.7 520.9,324.0 522.0,274.2 523.0,319.9 523.9,273.7 524.9,314.3 525.9,275.4 526.9,312.4 528.1,276.1 528.9,307.9 529.9,275.5 531.1,306.7 532.0,272.3 533.1,305.1 533.9,275.0 535.1,308.0 536.0,273.1 537.1,305.1 537.9,277.7 539.0,307.9 540.0,277.6 541.0,305.7 542.1,277.9 542.9,304.5 543.9,279.1 544.9,306.1 546.1,282.3 547.1,310.3 548.1,282.4 549.1,311.5 550.1,283.6 551.1,318.2 552.0,285.5 552.9,313.9 554.1,282.0 555.1,310.8 556.0,280.4 556.9,307.9 558.1,283.4 559.0,308.1 560.1,282.3 561.0,306.0 562.1,279.7 562.9,307.5 564.0,279.7 564.9,309.8 566.1,277.9 566.9,311.7 567.9,282.1 568.9,314.4 569.9,279.3 570.9,315.8 572.0,279.9 573.0,315.8 574.0,283.3 574.9,317.4 576.0,284.1 576.9,318.3 578.0,283.5 578.9,318.3 579.9,281.8 581.1,320.6 582.1,282.2 583.0,325.2 584.0,291.1 585.0,330.3 586.1,290.8 587.0,326.5 587.9,292.9 589.1,328.2 590.0,291.4 591.0,323.3 592.1,294.5 593.1,322.7 594.0,294.8 595.1,321.6 596.0,292.1 597.1,322.2 598.1,290.1 599.0,324.0 600.0,287.4 601.0,319.3 602.0,284.9 603.1,319.9 604.0,287.4 605.1,316.5 605.9,287.0 607.1,317.5 608.0,288.5 608.9,315.2 610.1,288.6 610.9,320.3 611.9,290.7 612.9,318.2 613.9,290.4 614.9,320.9 616.1,292.7 617.1,323.8 618.0,295.0 619.1,324.5 620.0,294.8 621.0,324.4 622.0,290.2 623.1,325.0 624.1,293.2 625.1,328.8 626.0,292.8 627.0,327.7 628.0,292.8 629.1,324.2 629.9,293.9 631.1,325.0 632.0,294.1 633.1,328.9 634.1,293.8 635.0,329.6 635.9,295.6 637.0,327.5 638.0,291.1 638.9,328.2 640.0,295.4 641.0,326.2 641.9,293.7 642.9,326.6 644.1,294.2 645.1,328.4 645.9,292.6 647.0,325.1 647.9,292.0 649.0,326.9 650.1,292.4 651.1,329.1 651.9,289.5 653.1,331.5 654.1,292.3 655.1,323.7 655.9,291.4 657.0,321.0 658.1,291.6 658.9,323.8 659.9,292.0 660.9,320.7 661.9,288.4 663.0,324.2 663.9,290.4 665.0,320.8 666.0,287.5 667.0,319.8 667.9,286.2 668.9,319.7 670.0,285.0 670.9,319.9 672.1,286.6 672.9,319.1 674.0,285.3 675.1,317.6 676.1,286.2 677.0,320.8 677.9,283.6 679.1,317.9 680.0,284.8 681.1,316.8 682.0,284.1 682.9,317.3 683.9,281.7 685.0,314.3 686.0,283.7 687.0,317.9 687.9,284.6 688.9,317.3 689.9,283.2 690.9,316.3 692.1,284.1 693.0,321.4 694.1,285.1 694.9,318.6 695.9,283.5 697.1,319.5 698.1,286.8 698.9,320.5 699.9,287.1 701.0,320.6 702.0,286.4 703.0,321.7 703.9,286.3 705.0,318.6 706.0,285.1 706.9,317.2 707.9,284.9 709.0,322.1 710.1,285.6 710.9,319.4 712.0,282.9 713.1,321.5 713.9,283.2 714.9,319.6 716.0,285.8 716.9,317.4 717.9,285.7 719.0,317.5 720.0,260.2 720.1,283.7 721.1,318.8 721.9,283.2 723.1,314.7 724.0,279.9 724.9,313.2 726.1,281.7 727.0,314.2 728.0,280.2 729.0,315.3 729.9,277.0 730.9,314.8 731.9,279.7 732.9,311.1 733.9,278.0 735.1,310.2 736.0,278.4 737.0,313.3 738.0,278.3 739.0,313.1 740.1,280.2 741.0,316.3 742.0,280.5 743.1,317.8 743.9,280.2 744.9,315.3 746.0,281.2 747.0,320.5 747.9,279.3 749.0,318.4 750.1,280.7 751.0,320.2 752.1,277.7 753.1,320.0 754.1,279.2 755.0,323.6 756.0,281.6 757.1,319.8 758.0,284.1 758.9,318.8 760.0,283.2 761.0,319.5 762.0,282.5 763.1,316.7 763.9,285.8 765.1,316.5 766.0,285.4 767.1,317.1 768.1,285.0 769.0,319.2 769.9,281.6 771.0,319.0 771.9,272.8 772.9,310.6 774.1,275.6 775.1,308.0 775.9,275.9 776.9,308.4 778.0,271.5 778.9,308.4 780.1,276.6 781.1,311.0 782.1,272.7 782.9,310.5 784.0,275.4 785.0,312.5 786.1,277.6 786.9,317.5 788.1,278.6 789.0,314.5 790.0,278.6 791.0,316.0 792.0,278.8 792.9,313.7 794.0,281.2 794.9,314.6 796.0,279.1 797.0,317.1 797.9,280.9 798.9,313.5 799.9,279.8 801.1,313.9 802.1,282.4 803.0,315.6 803.9,282.7 804.9,316.0 806.1,280.9 807.1,319.0 808.0,281.9 809.1,313.3 810.1,281.9 811.0,313.3 812.0,280.5 813.0,311.3 813.9,277.5 814.9,311.7 815.9,280.0 817.0,314.6 817.9,276.9 819.1,311.0 819.9,280.5 821.1,313.2 822.0,281.0 823.0,313.6 824.1,281.0 825.1,311.5 826.1,278.1 827.1,309.1 828.0,291.8" fill="none" stroke="#0000ff" stroke-width="5.4" stroke-linejoin="round" stroke-linecap="butt"/>
</g>
<g font-family="'Liberation Sans', Arial, Helvetica, sans-serif" stroke="#000" stroke-width="0.45" font-size="32.5" fill="#000">
<text x="103.9" y="618.7" text-anchor="middle">0</text>
<text x="313.8" y="618.7" text-anchor="middle">200</text>
<text x="523.7" y="618.7" text-anchor="middle">400</text>
<text x="733.5" y="618.7" text-anchor="middle">600</text>
<text x="943.4" y="618.7" text-anchor="middle">800</text>
<text x="89.9" y="583.1" text-anchor="end">0</text>
<text x="89.9" y="503.0" text-anchor="end">0.5</text>
<text x="89.9" y="422.9" text-anchor="end">1</text>
<text x="89.9" y="342.8" text-anchor="end">1.5</text>
<text x="89.9" y="262.7" text-anchor="end">2</text>
<text x="89.9" y="182.6" text-anchor="end">2.5</text>
<text x="89.9" y="102.5" text-anchor="end">3</text>
<text x="89.9" y="22.4" text-anchor="end">3.5</text>
</g>
<text font-family="'Liberation Sans', Arial, Helvetica, sans-serif" stroke="#000" stroke-width="0.45" font-size="35.75" x="523.4" y="668.5" text-anchor="middle">Sliding distance, [m]</text>
<text font-family="'Liberation Sans', Arial, Helvetica, sans-serif" stroke="#000" stroke-width="0.45" font-size="35.75" transform="translate(24.8,290.9) rotate(-90)" text-anchor="middle">Coefficient of friction, [-]</text>
<rect x="576.3" y="394.2" width="317.30000000000007" height="164.3" fill="#fff" stroke="#262626" stroke-width="1.9"/>
<path d="M586.8,418.4H696" stroke="#ff0000" stroke-width="5.4" fill="none"/>
<text font-family="'Liberation Sans', Arial, Helvetica, sans-serif" stroke="#000" stroke-width="0.45" font-size="29.1" x="703.4" y="428.7">P = 0.24 MPa</text>
<path d="M586.8,457.6H696" stroke="#00ff00" stroke-width="5.4" fill="none"/>
<text font-family="'Liberation Sans', Arial, Helvetica, sans-serif" stroke="#000" stroke-width="0.45" font-size="29.1" x="703.4" y="467.9">P = 0.46 MPa</text>
<path d="M586.8,496.7H696" stroke="#000000" stroke-width="5.4" fill="none"/>
<text font-family="'Liberation Sans', Arial, Helvetica, sans-serif" stroke="#000" stroke-width="0.45" font-size="29.1" x="703.4" y="507.0">P = 0.66 MPa</text>
<path d="M586.8,535.9H696" stroke="#0000ff" stroke-width="5.4" fill="none"/>
<text font-family="'Liberation Sans', Arial, Helvetica, sans-serif" stroke="#000" stroke-width="0.45" font-size="29.1" x="703.4" y="546.2">P = 0.78 MPa</text>
</svg>
</body></html>
